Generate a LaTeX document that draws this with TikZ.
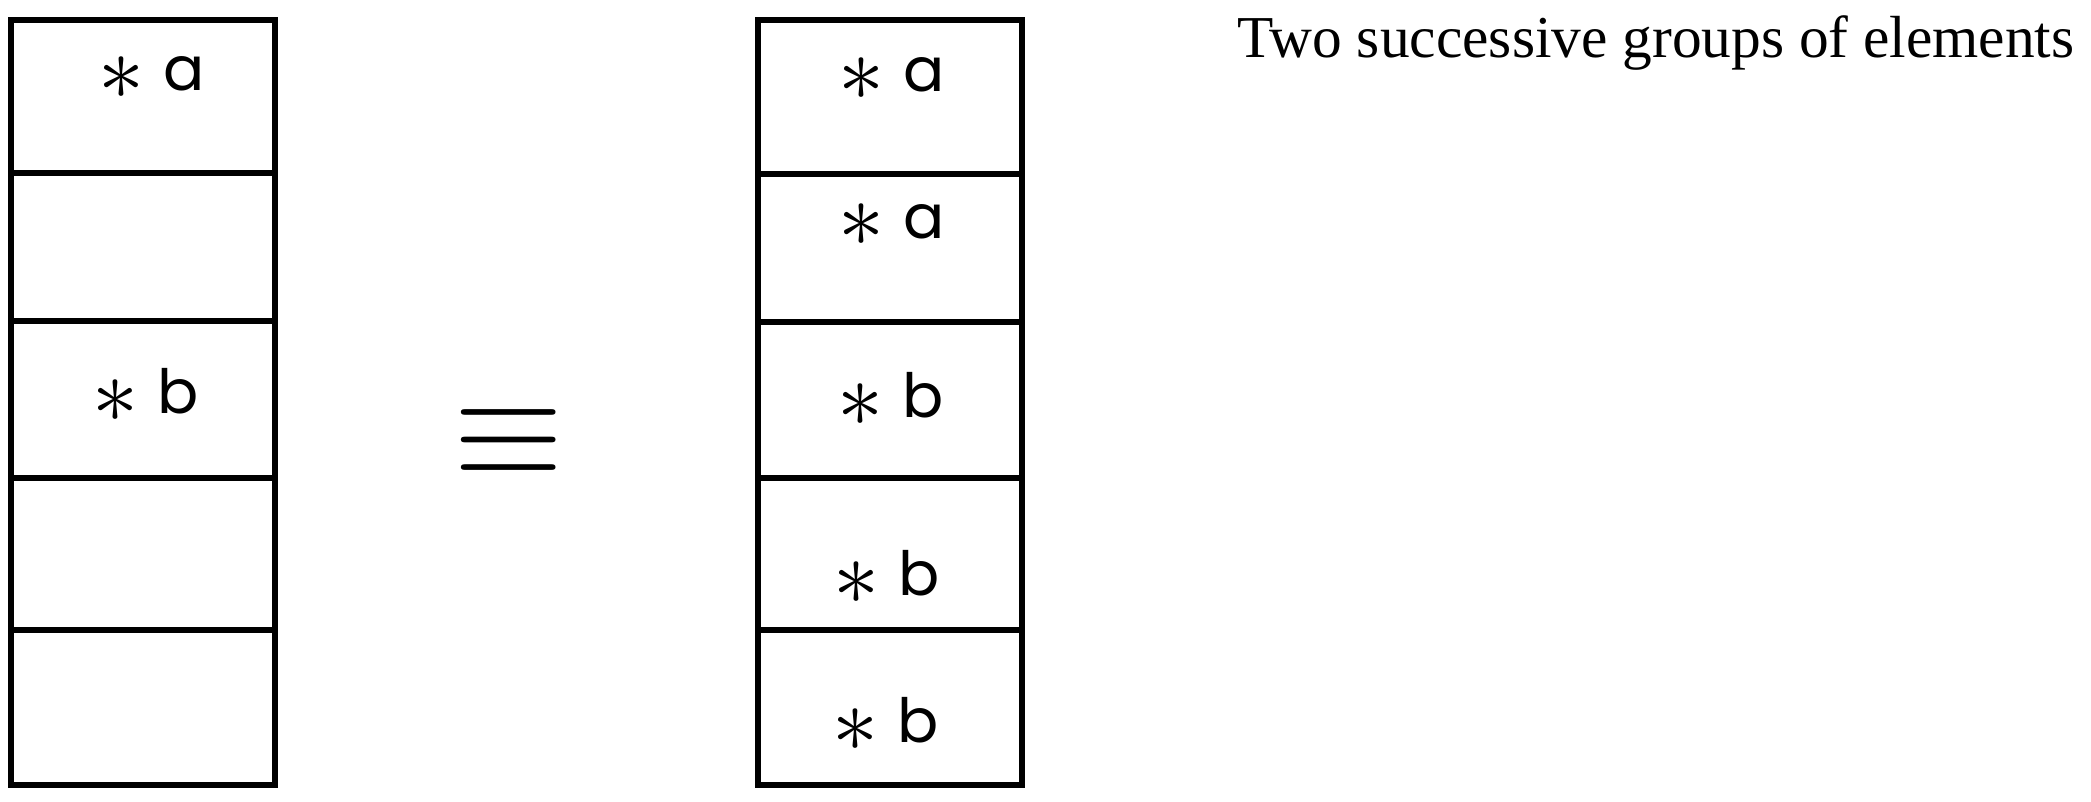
\documentclass[tikz,border=0pt]{standalone}
\usepackage{fontspec}
\setmainfont{Liberation Serif}
\newfontfamily\cellfont{Poppins}
\newcommand{\bigast}{\raisebox{-4.5pt}{\scalebox{4.6}{\normalsize$\ast$}}}
\begin{document}
\begin{tikzpicture}[x=0.5pt,y=-0.5pt,
        cell/.style={draw, line width=3pt, rectangle, minimum width=132pt, inner sep=0pt, outer sep=0pt, anchor=north west},
        itemlbl/.style={anchor=base west, inner sep=0pt, font=\cellfont\fontsize{30.5}{34}\selectfont}]
        \useasboundingbox (0,0) rectangle (2091,802);

        % left column
        \node[cell, minimum height=76.5pt] (L1) at (11,20) {};
        \node[cell, minimum height=74pt] (L2) at (L1.south west) {};
        \node[cell, minimum height=78.5pt] (L3) at (L2.south west) {};
        \node[cell, minimum height=76pt] (L4) at (L3.south west) {};
        \node[cell, minimum height=77.5pt] (L5) at (L4.south west) {};

        % right column
        \node[cell, minimum height=77pt] (R1) at (758,20) {};
        \node[cell, minimum height=74pt] (R2) at (R1.south west) {};
        \node[cell, minimum height=78pt] (R3) at (R2.south west) {};
        \node[cell, minimum height=76pt] (R4) at (R3.south west) {};
        \node[cell, minimum height=77.5pt] (R5) at (R4.south west) {};

        \node[itemlbl] (la1) at (98,91) {\bigast\hspace{9.5pt}a};
        \node[itemlbl] (lb3) at (92,413) {\bigast\hspace{9.5pt}b};

        \node[itemlbl] (ra1) at (838,92) {\bigast\hspace{9.5pt}a};
        \node[itemlbl] (ra2) at (838,238) {\bigast\hspace{9.5pt}a};
        \node[itemlbl] (rb3) at (837,417) {\bigast\hspace{9.5pt}b};
        \node[itemlbl] (rb4) at (833,595) {\bigast\hspace{9.5pt}b};
        \node[itemlbl] (rb5) at (832,742) {\bigast\hspace{9.5pt}b};

        \node[inner sep=0pt] (eqv) at (509,443) {\scalebox{7.1}{\normalsize$\equiv$}};

        \node[anchor=base west, inner sep=0pt, font=\fontsize{29.7}{32}\selectfont] (title) at (1237,58) {Two successive groups of elements};
    \end{tikzpicture}
\end{document}
